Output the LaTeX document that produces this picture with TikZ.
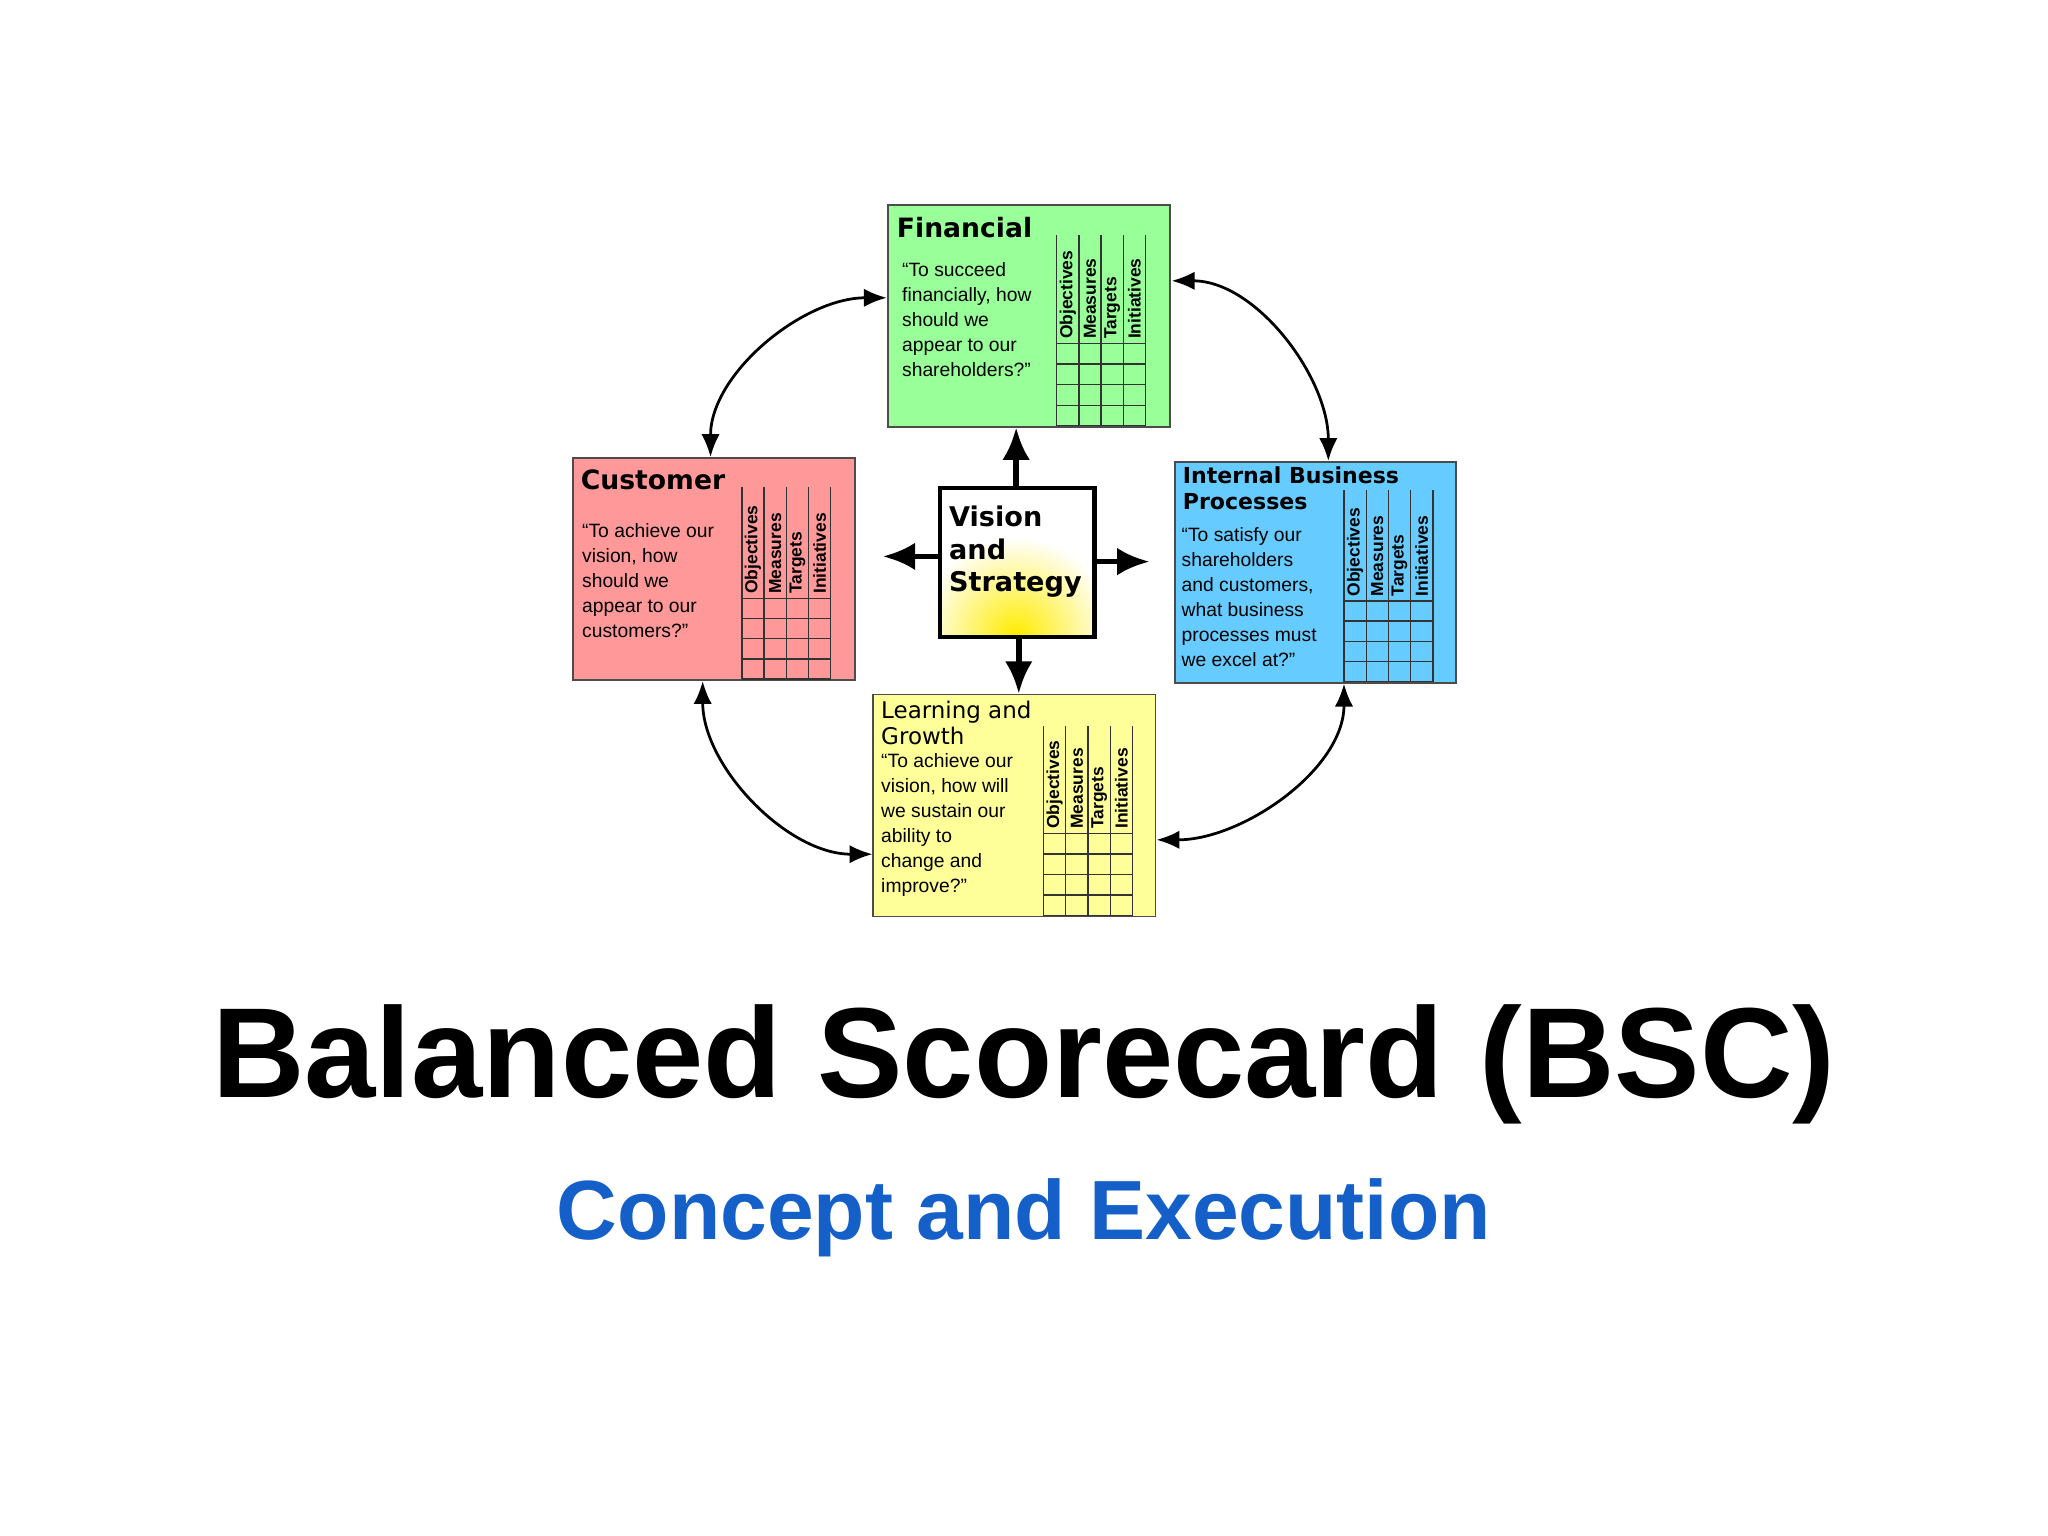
\documentclass[tikz,border=0pt]{standalone}
\usepackage{fontspec}
\setmainfont{Liberation Sans}
\newfontfamily\dejab{DejaVu Sans}
\usetikzlibrary{arrows.meta}
\definecolor{fincol}{HTML}{99FF99}
\definecolor{cuscol}{HTML}{FF9999}
\definecolor{intcol}{HTML}{66CCFF}
\definecolor{lrncol}{HTML}{FFFF99}
\definecolor{subblue}{HTML}{1560C8}
\tikzset{
 cardbox/.style={draw=black!70, line width=0.4pt},
 cardtitle/.style={anchor=north west, inner sep=0, align=left, font=\dejab\bfseries\fontsize{5.8}{5.8}\selectfont},
 cardbody/.style={anchor=north west, inner sep=0, align=left, font=\fontsize{4.2}{5.45}\selectfont},
 colhead/.style={rotate=90, anchor=west, inner sep=0.5pt, font=\bfseries\fontsize{3.8}{3.8}\selectfont},
 bsarrow/.style={{Latex[length=5pt,width=4pt]}-{Latex[length=5pt,width=4pt]}, line width=0.6pt},
 vsarrow/.style={-{Latex[length=7pt,width=6pt]}, line width=1.2pt}
}
\newcommand\bsctable[4]{% x, header top, grid top, grid bottom
 \foreach \i in {0,...,4} \draw[black!80, line width=0.3pt] ({#1+17*\i},#2) -- ({#1+17*\i},#4);
 \foreach \j in {0,...,4} \draw[black!80, line width=0.3pt] (#1,{#3+(#4-#3)*\j/4}) -- ({#1+68},{#3+(#4-#3)*\j/4});
 \foreach \t [count=\k from 0] in {Objectives,Measures,Targets,Initiatives}
   \node[colhead] at ({#1+8.5+17*\k},{#3-1}) {\t};
}
\begin{document}
\begin{tikzpicture}[x=0.01cm,y=-0.01cm]
\useasboundingbox[fill=white] (0,0) rectangle (1568,1176);
% Financial
\node[cardbox, fill=fincol, minimum width=216*0.01cm, minimum height=170*0.01cm, anchor=north west] (fin) at (679,156) {};
\node[cardtitle] (fint) at (686,166) {Financial};
\node[cardbody] (finb) at (690,200) {``To succeed\\financially, how\\should we\\appear to our\\shareholders?''};
\bsctable{809}{180}{263}{326}
% Customer
\node[cardbox, fill=cuscol, minimum width=216*0.01cm, minimum height=170*0.01cm, anchor=north west] (cus) at (438,350) {};
\node[cardtitle] (cust) at (444,359) {Customer};
\node[cardbody] (cusb) at (445,400) {``To achieve our\\vision, how\\should we\\appear to our\\customers?''};
\bsctable{568}{373}{458}{520}
% Internal
\node[cardbox, fill=intcol, minimum width=215*0.01cm, minimum height=169*0.01cm, anchor=north west] (int) at (899,353) {};
\node[cardtitle, font=\dejab\bfseries\fontsize{4.8}{5.6}\selectfont] (intt) at (905,357) {Internal Business\\Processes};
\node[cardbody] (intb) at (904,403) {``To satisfy our\\shareholders\\and customers,\\what business\\processes must\\we excel at?''};
\bsctable{1029}{375}{460}{522}
% Learning
\node[cardbox, fill=lrncol, minimum width=216*0.01cm, minimum height=170*0.01cm, anchor=north west] (lrn) at (668,531) {};
\node[cardtitle, font=\dejab\fontsize{5}{5.6}\selectfont] (lrnt) at (674,536) {Learning and\\Growth};
\node[cardbody] (lrnb) at (674,576) {``To achieve our\\vision, how will\\we sustain our\\ability to\\change and\\improve?''};
\bsctable{799}{556}{638}{701}
% Vision
\begin{scope}
\clip (718,372) rectangle (836,486);
\fill[white] (718,372) rectangle (836,486);
\shade[inner color=yellow!85!orange, outer color=white] (778,486) circle (75);
\end{scope}
\node[draw=black, line width=1pt, minimum width=118*0.01cm, minimum height=114*0.01cm, anchor=north west] (vis) at (718,372) {};
\node[cardtitle, font=\dejab\bfseries\fontsize{5.9}{7}\selectfont] (vist) at (726,387) {Vision\\and\\Strategy};
% arrows from vision
\draw[vsarrow] (vis.north -| 778,0) -- (fin.south -| 778,0);
\draw[vsarrow] (vis.west |- 0,426) -- (676,426);
\draw[vsarrow] (vis.east |- 0,430) -- (880,430);
\draw[vsarrow] (vis.south -| 780,0) -- (lrn.north -| 780,0);
% curved arrows
\draw[bsarrow] (fin.west |- 0,228) to[out=180, in=90, looseness=0.9] (cus.north -| 544,0);
\draw[bsarrow] (897,215) to[out=0, in=90, looseness=0.9] (int.north -| 1017,0);
\draw[bsarrow] (int.south -| 1029,0) to[out=-90, in=0, looseness=0.9] (lrn.east |- 0,643);
\draw[bsarrow] (lrn.west |- 0,654) to[out=180, in=-90, looseness=0.9] (cus.south -| 538,0);
% titles
\node[font=\bfseries\fontsize{27.9}{28}\selectfont] (title) at (784,815) {Balanced Scorecard (BSC)};
\node[font=\bfseries\fontsize{18.3}{18.3}\selectfont, text=subblue] (sub) at (784,932) {Concept and Execution};
\end{tikzpicture}
\end{document}
